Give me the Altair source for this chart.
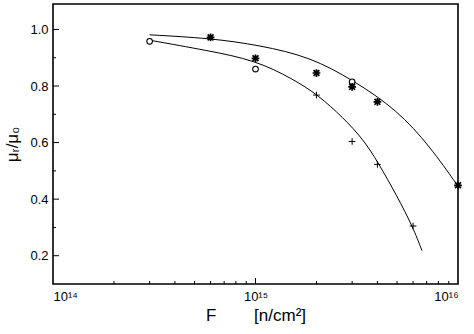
import altair as alt
import pandas as pd

# Data points
circ_F = [3e14, 1e15, 3e15]
circ_v = [0.958, 0.860, 0.815]

star_F = [6e14, 1e15, 2e15, 3e15, 4e15, 1e16]
star_v = [0.972, 0.898, 0.846, 0.797, 0.744, 0.449]

plus_F = [2e15, 3e15, 4e15, 6e15]
plus_v = [0.768, 0.604, 0.523, 0.305]

# Fitted curves
up_F = [3.0e14, 6.0e14, 1.05e15, 1.86e15, 3.03e15, 5.0e15, 7.28e15, 1e16]
up_v = [0.981, 0.969, 0.944, 0.903, 0.821, 0.716, 0.586, 0.446]
lo_F = [3.0e14, 5.75e14, 1.0e15, 1.53e15, 2.04e15, 2.71e15, 3.4e15, 4.03e15, 5.0e15, 6.0e15, 6.64e15]
lo_v = [0.962, 0.926, 0.891, 0.825, 0.768, 0.688, 0.612, 0.530, 0.411, 0.300, 0.218]

# Tick positions
x_major = [1e14, 1e15, 1e16]
x_minor = [m * 10 ** e for e in (14, 15) for m in range(2, 10)]
y_major = [0.2, 0.4, 0.6, 0.8, 1.0]
y_minor = [0.3, 0.5, 0.7, 0.9]

W, H = 405, 280
FONT = "Liberation Sans"
NB = "\u00a0"

xs = alt.Scale(type="log", domain=[1e14, 1e16])
ys = alt.Scale(domain=[0.1, 1.09], nice=False, zero=False)

x_axis = alt.Axis(
    values=x_major,
    labelExpr="datum.value < 5e14 ? '10¹⁴' : datum.value < 5e15 ? '10¹⁵' : '10¹⁶'",
    ticks=False, domain=False, grid=False,
    labelFont=FONT, labelFontSize=13, labelColor="black", labelPadding=6,
    title="F" + NB * 8 + "[n/cm²]", titleFont=FONT, titleFontSize=17, titleFontWeight="normal",
    titleColor="black", titlePadding=4,
)
y_axis = alt.Axis(
    values=y_major, format=".1f",
    ticks=False, domain=False, grid=False,
    labelFont=FONT, labelFontSize=13, labelColor="black", labelPadding=5,
    title="μᵣ/μ₀", titleFont=FONT, titleFontSize=17, titleFontWeight="normal",
    titleColor="black", titlePadding=8,
)

base_pts = pd.DataFrame({"F": [1e14], "v": [0.1]})

axes_layer = alt.Chart(base_pts).mark_point(opacity=0).encode(
    x=alt.X("F:Q", scale=xs, axis=x_axis),
    y=alt.Y("v:Q", scale=ys, axis=y_axis),
)

frame = alt.Chart(base_pts).mark_rect(fill=None, stroke="black", strokeWidth=1.6).encode(
    x=alt.value(0), x2=alt.value(W), y=alt.value(0), y2=alt.value(H)
)

curves = pd.concat([
    pd.DataFrame({"F": up_F, "v": up_v, "c": "up"}),
    pd.DataFrame({"F": lo_F, "v": lo_v, "c": "lo"}),
])
lines = alt.Chart(curves).mark_line(color="black", strokeWidth=1, interpolate="basis").encode(
    x=alt.X("F:Q", scale=xs), y=alt.Y("v:Q", scale=ys), detail="c:N"
)

circles = alt.Chart(pd.DataFrame({"F": circ_F, "v": circ_v})).mark_point(
    shape="circle", size=32, filled=False, color="black", strokeWidth=1.1, fill="white", fillOpacity=1
).encode(x=alt.X("F:Q", scale=xs), y=alt.Y("v:Q", scale=ys))

star_path = "M-1,0L1,0M0,-1L0,1M-0.75,-0.75L0.75,0.75M-0.75,0.75L0.75,-0.75"
stars = alt.Chart(pd.DataFrame({"F": star_F, "v": star_v})).mark_point(
    shape=star_path, size=60, filled=False, color="black", strokeWidth=1.7, opacity=1
).encode(x=alt.X("F:Q", scale=xs), y=alt.Y("v:Q", scale=ys))

plus_path = "M-1,0L1,0M0,-1L0,1"
pluses = alt.Chart(pd.DataFrame({"F": plus_F, "v": plus_v})).mark_point(
    shape=plus_path, size=45, filled=False, color="black", strokeWidth=1, opacity=1
).encode(x=alt.X("F:Q", scale=xs), y=alt.Y("v:Q", scale=ys))

# Inward ticks
xt_maj = pd.DataFrame({"F": [f for f in x_major if 1e14 < f < 1e16]})
xt_min = pd.DataFrame({"F": x_minor})
xticks_maj = alt.Chart(xt_maj).mark_rule(color="black", strokeWidth=1).encode(
    x=alt.X("F:Q", scale=xs), y=alt.value(H), y2=alt.value(H - 6)
)
xticks_min = alt.Chart(xt_min).mark_rule(color="black", strokeWidth=1).encode(
    x=alt.X("F:Q", scale=xs), y=alt.value(H), y2=alt.value(H - 3)
)
yticks_maj = alt.Chart(pd.DataFrame({"v": y_major})).mark_rule(color="black", strokeWidth=1).encode(
    y=alt.Y("v:Q", scale=ys), x=alt.value(0), x2=alt.value(6)
)
yticks_min = alt.Chart(pd.DataFrame({"v": y_minor})).mark_rule(color="black", strokeWidth=1).encode(
    y=alt.Y("v:Q", scale=ys), x=alt.value(0), x2=alt.value(3)
)

chart = alt.layer(
    axes_layer, lines, xticks_maj, xticks_min, yticks_maj, yticks_min, circles, stars, pluses, frame
).properties(
    width=W, height=H,
    autosize=alt.AutoSizeParams(type="none"),
    padding={"left": 53, "top": 4, "right": 16, "bottom": 50},
).configure(
    background="white"
).configure_view(
    strokeWidth=0
)

chart.save("out.html", embed_options={"renderer": "svg", "actions": False})
